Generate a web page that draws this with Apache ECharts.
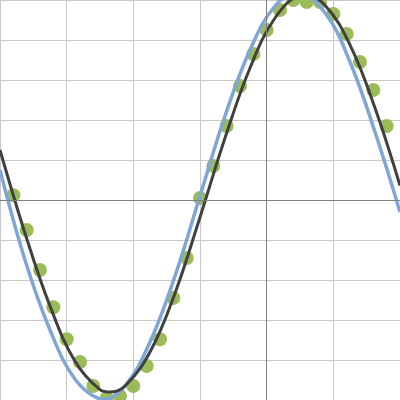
<!DOCTYPE html>
<html>
<head>
<meta charset="utf-8">
<script src="https://cdn.jsdelivr.net/npm/echarts@6/dist/echarts.min.js"></script>
<style>html,body{margin:0;padding:0;background:#fff}#main{width:400px;height:400px}</style>
</head>
<body>
<div id="main"></div>
<script>
// measured points (x in 0..6, y in -5..5)
var dotX = [];
for (var k = 1; k <= 29; k++) dotX.push(k / 5);
var dotY = [0.12,-0.75,-1.75,-2.68,-3.48,-4.05,-4.65,-4.95,-4.9,-4.65,-4.15,-3.48,-2.45,-1.45,0.05,
            0.85,1.85,2.85,3.65,4.25,4.75,5.0,4.95,4.95,4.65,4.15,3.45,2.75,1.85];
var blackX = [0,0.375,0.75,1.125,1.5,1.65,1.875,2.25,2.625,3,3.375,3.75,4.125,4.5,4.575,4.875,5.25,5.625,6];
var fitBlack = [1.25,-0.83,-2.65,-4.03,-4.74,-4.8,-4.65,-3.8,-2.33,-0.43,1.55,3.3,4.55,5.11,5.12,4.87,3.88,2.3,0.36];
var blueX = [0,0.375,0.75,1.125,1.5,1.545,1.875,2.25,2.625,3,3.375,3.75,4.125,4.47,4.875,5.25,5.625,6];
var fitBlue = [0.75,-1.5,-3.25,-4.48,-4.98,-4.99,-4.65,-3.55,-1.9,0.1,2.1,3.75,4.85,5.18,4.68,3.45,1.7,-0.3];

function pairs(xs, ys){
    var out = [];
    for (var i = 0; i < ys.length; i++) out.push([xs[i], ys[i]]);
    return out;
}

var myChart = echarts.init(document.getElementById('main'));
var option = {
    animation: false,
    grid: {left: 0, right: 0, top: 0, bottom: 0},
    xAxis: {
        type: 'value', min: 0, max: 6, interval: 1,
        axisLine: {show: false}, axisTick: {show: false}, axisLabel: {show: false},
        splitLine: {lineStyle: {color: '#c8c8c8', width: 1}}
    },
    yAxis: {
        type: 'value', min: -5, max: 5, interval: 1,
        axisLine: {show: false}, axisTick: {show: false}, axisLabel: {show: false},
        splitLine: {lineStyle: {color: '#c8c8c8', width: 1}}
    },
    series: [
        {
            type: 'scatter', data: pairs(dotX, dotY), symbolSize: 14,
            itemStyle: {color: '#9bbb59', opacity: 1},
            markLine: {
                silent: true, symbol: 'none', label: {show: false},
                lineStyle: {color: '#808080', width: 1, type: 'solid'},
                data: [{xAxis: 4}, {yAxis: 0}]
            },
            z: 1
        },
        {
            type: 'line', data: pairs(blueX, fitBlue), smooth: 0.4, showSymbol: false,
            lineStyle: {color: '#7fa6d6', width: 3.5}, z: 2
        },
        {
            type: 'line', data: pairs(blackX, fitBlack), smooth: 0.4, showSymbol: false,
            lineStyle: {color: '#404040', width: 3}, z: 3
        }
    ]
};
myChart.setOption(option);
</script>
</body>
</html>
